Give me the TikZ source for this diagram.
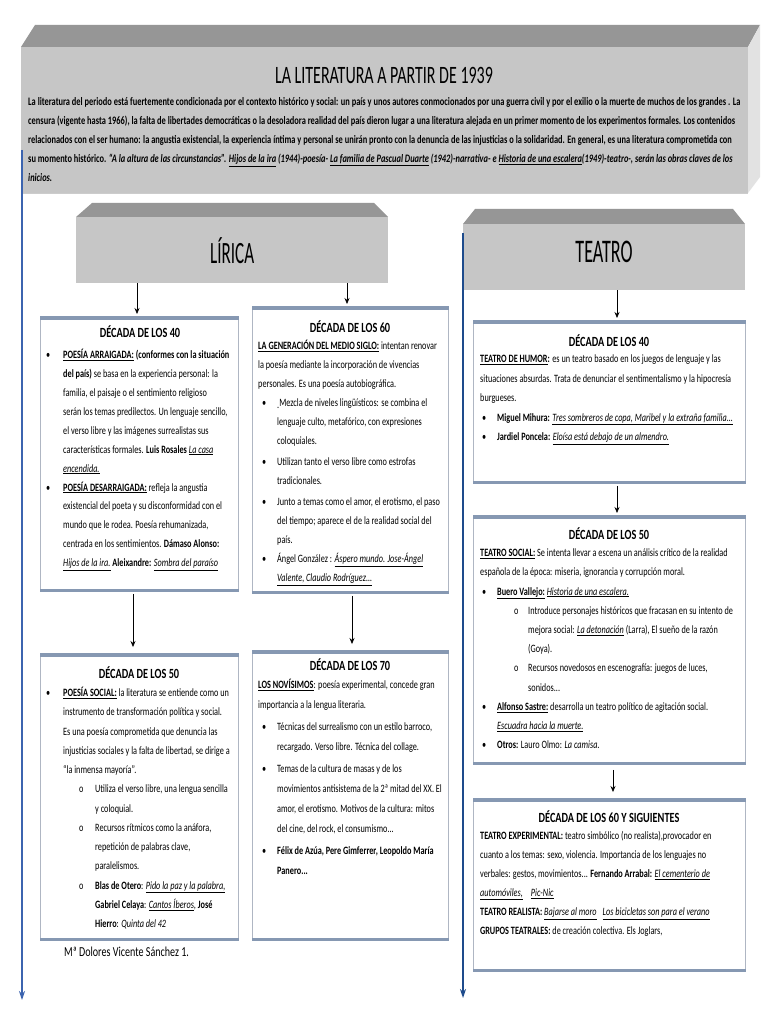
\documentclass[tikz,border=0pt]{standalone}
\usepackage{fontspec}
\setmainfont{Carlito}[FakeStretch=0.735]
\newfontfamily\hdrfont{Carlito}[FakeStretch=0.64]
\newfontfamily\secfont{Carlito}[FakeStretch=0.55]
\usetikzlibrary{arrows.meta}
\definecolor{gfront}{RGB}{198,198,198}
\definecolor{gtop}{RGB}{150,150,150}
\definecolor{gside}{RGB}{226,226,226}
\definecolor{slate}{RGB}{134,152,178}
\definecolor{boxedge}{RGB}{175,182,195}
\definecolor{lblue}{RGB}{60,100,175}
\definecolor{nblue}{RGB}{30,75,140}
\newcommand\bodyfs[1]{\fontsize{11.2}{#1}\selectfont}
\newcommand\bl[2]{\hspace*{#1}\makebox[#2][l]{•}}
\newcommand\sbl[2]{\hspace*{#1}\makebox[#2][l]{o}}
\newcommand\ubf[1]{\underline{\textbf{#1}}}
\newcommand\uit[1]{\underline{\textit{#1}}}
\newcommand\fst{\rule{0pt}{10pt}}
\tikzset{
  cbox/.style={draw=boxedge, line width=0.8pt, fill=white, inner sep=0, anchor=north west},
  band/.style={slate, line width=3.2pt},
  txt/.style={anchor=north west, inner sep=0, align=left},
  dtitle/.style={inner sep=0, font=\fontsize{14}{16}\selectfont\bfseries},
  arr/.style={-{Stealth[length=6pt,width=5pt]}, line width=0.7pt, black},
  varr/.style={-{Stealth[length=9pt,width=6pt]}, line width=1.8pt}
}
\begin{document}
\begin{tikzpicture}[x=1pt,y=-1pt]
\useasboundingbox (0,0) rectangle (768,1024);
\fill[white] (0,0) rectangle (768,1024);

% header 3D box
\fill[gtop] (21,47) -- (35,25) -- (760,25) -- (748,47) -- cycle;
\fill[gside] (748,47) -- (760,25) -- (760,177) -- (748,193) -- cycle;
\node[fill=gfront, minimum width=727pt, minimum height=146pt, anchor=north west, inner sep=0] (hdr) at (21,47) {};
\draw[black!20, line width=1pt] (hdr.south west) -- (hdr.south east);
\node[inner sep=0, font=\hdrfont\fontsize{25}{28}\selectfont] (title) at (384,75) {LA LITERATURA A PARTIR DE 1939};
\node[txt, font=\fontsize{11.4}{19}\selectfont\bfseries] (hdrtext) at (28,95.5) {\fst La literatura del periodo está fuertemente condicionada por el contexto histórico y social: un país y unos autores conmocionados por una guerra civil y por el exilio o la muerte de muchos de los grandes . La\\
censura (vigente hasta 1966), la falta de libertades democráticas o la  desoladora realidad del país dieron lugar a una literatura alejada en un primer momento de los experimentos formales.  Los contenidos\\
relacionados con el ser humano: la angustia existencial, la  experiencia íntima y personal  se unirán pronto con  la denuncia  de  las  injusticias o la solidaridad. En general, es  una literatura comprometida con\\
su momento histórico. \textit{“A la altura de las circunstancias”. \underline{Hijos de la ira} (1944)-poesía- \underline{La familia de Pascual Duarte} (1942)-narrativa- e \underline{Historia de una escalera}(1949)-teatro-, serán las obras claves de los}\\
\textit{inicios.}};

% LIRICA box
\fill[gtop] (76,217) -- (92,203) -- (374,203) -- (388,217) -- cycle;
\node[fill=gfront, minimum width=312pt, minimum height=66pt, anchor=north west, inner sep=0] (lirica) at (76,217) {};
\node[inner sep=0, font=\secfont\fontsize{31}{34}\selectfont] (liricat) at (lirica.center) {LÍRICA};

% TEATRO box
\fill[gtop] (463,224) -- (475,209) -- (733,209) -- (745,224) -- cycle;
\node[fill=gfront, minimum width=282pt, minimum height=66pt, anchor=north west, inner sep=0] (teatro) at (463,224) {};
\node[inner sep=0, font=\secfont\fontsize{33}{36}\selectfont] (teatrot) at (604,252) {TEATRO};

% vertical blue lines
\coordinate (lstart) at (22,150);
\coordinate (lend) at (22,1000);
\coordinate (rstart) at (463,233);
\coordinate (rend) at (463,998);
\draw[varr, lblue, line width=1.6pt] (lstart) -- (lend);
\draw[varr, nblue, line width=2.2pt] (rstart) -- (rend);

% content boxes
\node[cbox, minimum width=198pt, minimum height=272pt] (l40) at (40,318) {};
\node[cbox, minimum width=196pt, minimum height=284pt] (m60) at (252,308) {};
\node[cbox, minimum width=198pt, minimum height=284pt] (l50) at (40,655) {};
\node[cbox, minimum width=196pt, minimum height=287pt] (m70) at (252,652) {};
\node[cbox, minimum width=272pt, minimum height=160pt] (r40) at (473,322) {};
\node[cbox, minimum width=272pt, minimum height=246pt] (r50) at (473,517) {};
\node[cbox, minimum width=272pt, minimum height=170pt] (r60) at (473,800) {};
\foreach \b in {l40,m60,l50,m70,r40,r50,r60}{
  \draw[band] (\b.north west) -- (\b.north east);
  \draw[band] (\b.south west) -- (\b.south east);
}

% arrows
\coordinate (ca) at (137,0);
\coordinate (cb) at (347,0);
\coordinate (cc) at (617,0);
\coordinate (cd) at (133,0);
\coordinate (ce) at (352,0);
\coordinate (cf) at (613,0);
\draw[arr] (lirica.south -| ca) -- ([yshift=4pt]l40.north -| ca);
\draw[arr] (lirica.south -| cb) -- ([yshift=4pt]m60.north -| cb);
\draw[arr] (teatro.south -| cc) -- ([yshift=4pt]r40.north -| cc);
\draw[arr] ([yshift=-3pt]l40.south -| cd) -- ([yshift=8pt]l50.north -| cd);
\draw[arr] ([yshift=-3pt]m60.south -| ce) -- ([yshift=8pt]m70.north -| ce);
\draw[arr] ([yshift=-3pt]r40.south -| cc) -- ([yshift=4pt]r50.north -| cc);
\draw[arr] ([yshift=-6pt]r50.south -| cf) -- ([yshift=8pt]r60.north -| cf);

% titles
\node[dtitle] (l40h) at (140,332) {DÉCADA DE LOS 40};
\node[dtitle] (m60h) at (350,327) {DÉCADA DE LOS 60};
\node[dtitle] (l50h) at (139,673) {DÉCADA DE LOS 50};
\node[dtitle] (m70h) at (350,665) {DÉCADA DE LOS 70};
\node[dtitle] (r40h) at (609,341) {DÉCADA DE LOS 40};
\node[dtitle] (r50h) at (609,534) {DÉCADA DE LOS 50};
\node[dtitle] (r60h) at (609,817) {DÉCADA DE LOS 60 Y SIGUIENTES};

% L40 text
\node[txt, font=\bodyfs{18.9}] (l40t) at (46,348.5) {\fst\bl{0pt}{17pt}\ubf{POESÍA ARRAIGADA:} \textbf{(conformes con la situación}\\
\hspace*{17pt}\textbf{del país)} se  basa en la experiencia personal: la\\
\hspace*{17pt}familia, el paisaje o  el sentimiento religioso\\
\hspace*{17pt}serán los temas predilectos. Un lenguaje sencillo,\\
\hspace*{17pt}el verso libre y las imágenes surrealistas sus\\
\hspace*{17pt}características formales.  \textbf{Luis Rosales} \uit{La casa}\\
\hspace*{17pt}\uit{encendida.}\\
\bl{0pt}{17pt}\ubf{POESÍA DESARRAIGADA:} refleja la angustia\\
\hspace*{17pt}existencial del poeta y su disconformidad con el\\
\hspace*{17pt}mundo que le rodea. Poesía rehumanizada,\\
\hspace*{17pt}centrada en los sentimientos. \textbf{Dámaso Alonso:}\\
\hspace*{17pt}\uit{Hijos de la ira.} \textbf{Aleixandre:} \uit{Sombra del paraíso}};

% M60 text
\node[txt, font=\bodyfs{19}] (m60t) at (258,339.5) {\fst\ubf{LA GENERACIÓN DEL MEDIO SIGLO:} intentan renovar\\
la poesía mediante la incorporación de  vivencias\\
personales. Es una poesía autobiográfica.\\
\bl{4pt}{15pt}\raisebox{-2pt}{.}Mezcla de niveles lingüísticos: se combina el\\
\hspace*{19pt}lenguaje culto, metafórico, con expresiones\\
\hspace*{19pt}coloquiales.\\[2pt]
\bl{4pt}{15pt}Utilizan tanto el verso libre como estrofas\\
\hspace*{19pt}tradicionales.\\[2pt]
\bl{4pt}{15pt}Junto a temas como el amor, el erotismo, el paso\\
\hspace*{19pt}del tiempo;  aparece el de la realidad social del\\
\hspace*{19pt}país.\\
\bl{4pt}{15pt}Ángel González : \uit{Áspero mundo. Jose-Ángel}\\
\hspace*{19pt}\uit{Valente, Claudio Rodríguez...}};

% L50 text
\node[txt, font=\bodyfs{19.25}] (l50t) at (46,686.5) {\fst\bl{0pt}{17pt}\ubf{POESÍA SOCIAL:} la literatura se entiende como un\\
\hspace*{17pt}instrumento de transformación política y social.\\
\hspace*{17pt}Es una poesía comprometida que denuncia las\\
\hspace*{17pt}injusticias sociales y la falta de libertad, se dirige a\\
\hspace*{17pt}“la inmensa mayoría”.\\
\sbl{33pt}{16pt}Utiliza el verso libre, una lengua sencilla\\
\hspace*{49pt}y coloquial.\\
\sbl{33pt}{16pt}Recursos rítmicos como la anáfora,\\
\hspace*{49pt}repetición de palabras clave,\\
\hspace*{49pt}paralelismos.\\
\sbl{33pt}{16pt}\textbf{Blas de Otero}: \uit{Pido la paz y la palabra,}\\
\hspace*{49pt}\textbf{Gabriel Celaya}: \uit{Cantos Íberos}, \textbf{José}\\
\hspace*{49pt}\textbf{Hierro}: \textit{Quinta del 42}};

% M70 text
\node[txt, font=\bodyfs{20}] (m70t) at (258,678.5) {\fst\ubf{LOS NOVÍSIMOS}: poesía experimental, concede gran\\
importancia a la lengua literaria.\\[2pt]
\bl{4pt}{15pt}Técnicas del surrealismo con un estilo barroco,\\
\hspace*{19pt}recargado.  Verso libre. Técnica del collage.\\[2pt]
\bl{4pt}{15pt}Temas de la cultura de masas y de los\\
\hspace*{19pt}movimientos antisistema de la 2ª mitad del XX. El\\
\hspace*{19pt}amor, el erotismo. Motivos de la cultura: mitos\\
\hspace*{19pt}del cine, del rock, el consumismo...\\[2pt]
\bl{4pt}{15pt}\textbf{Félix de  Azúa, Pere Gimferrer, Leopoldo María}\\
\hspace*{19pt}\textbf{Panero...}};

% R40 text
\node[txt, font=\bodyfs{19.5}] (r40t) at (480,352.5) {\fst\ubf{TEATRO DE HUMOR}\textbf{:} es un teatro basado en los juegos de lenguaje y las\\
situaciones absurdas. Trata de denunciar el sentimentalismo y la hipocresía\\
burgueses.\\
\bl{2pt}{15pt}\textbf{Miguel Mihura:} \uit{Tres sombreros de copa, Maribel y la extraña familia...}\\
\bl{2pt}{15pt}\textbf{Jardiel Poncela:} \uit{Eloísa está debajo de un almendro.}};

% R50 text
\node[txt, font=\bodyfs{19.2}] (r50t) at (480,546.5) {\fst\ubf{TEATRO SOCIAL:} Se intenta llevar a escena un análisis crítico de la realidad\\
española de la época: miseria, ignorancia y corrupción moral.\\
\bl{2pt}{15pt}\ubf{Buero Vallejo:} \uit{Historia de una escalera.}\\
\sbl{34pt}{14pt}Introduce personajes históricos que fracasan en su intento de\\
\hspace*{48pt}mejora social: \uit{La detonación} (Larra), El sueño de la razón\\
\hspace*{48pt}(Goya).\\
\sbl{34pt}{14pt}Recursos novedosos en escenografía: juegos de luces,\\
\hspace*{48pt}sonidos...\\
\bl{2pt}{15pt}\ubf{Alfonso Sastre:} desarrolla un teatro político de agitación social.\\
\hspace*{17pt}\uit{Escuadra hacia la muerte.}\\
\bl{2pt}{15pt}\textbf{Otros:} Lauro Olmo: \textit{La camisa.}};

% R60 text
\node[txt, font=\bodyfs{19}] (r60t) at (480,829.5) {\fst\textbf{TEATRO EXPERIMENTAL:} teatro simbólico (no realista),provocador en\\
cuanto a los temas: sexo, violencia. Importancia de los lenguajes no\\
verbales: gestos, movimientos... \textbf{Fernando Arrabal:} \uit{El cementerio de}\\
\uit{automóviles,}\hspace{8pt}\uit{Pic-Nic}\\
\textbf{TEATRO REALISTA:} \uit{Bajarse al moro}\hspace{6pt}\uit{Los bicicletas son para el verano}\\
\textbf{GRUPOS TEATRALES:}  de creación colectiva. Els Joglars,};

% footer
\node[anchor=west, inner sep=0, font=\fontsize{13.7}{15}\selectfont] (author) at (64,952) {Mª Dolores Vicente Sánchez 1.};
\end{tikzpicture}
\end{document}
